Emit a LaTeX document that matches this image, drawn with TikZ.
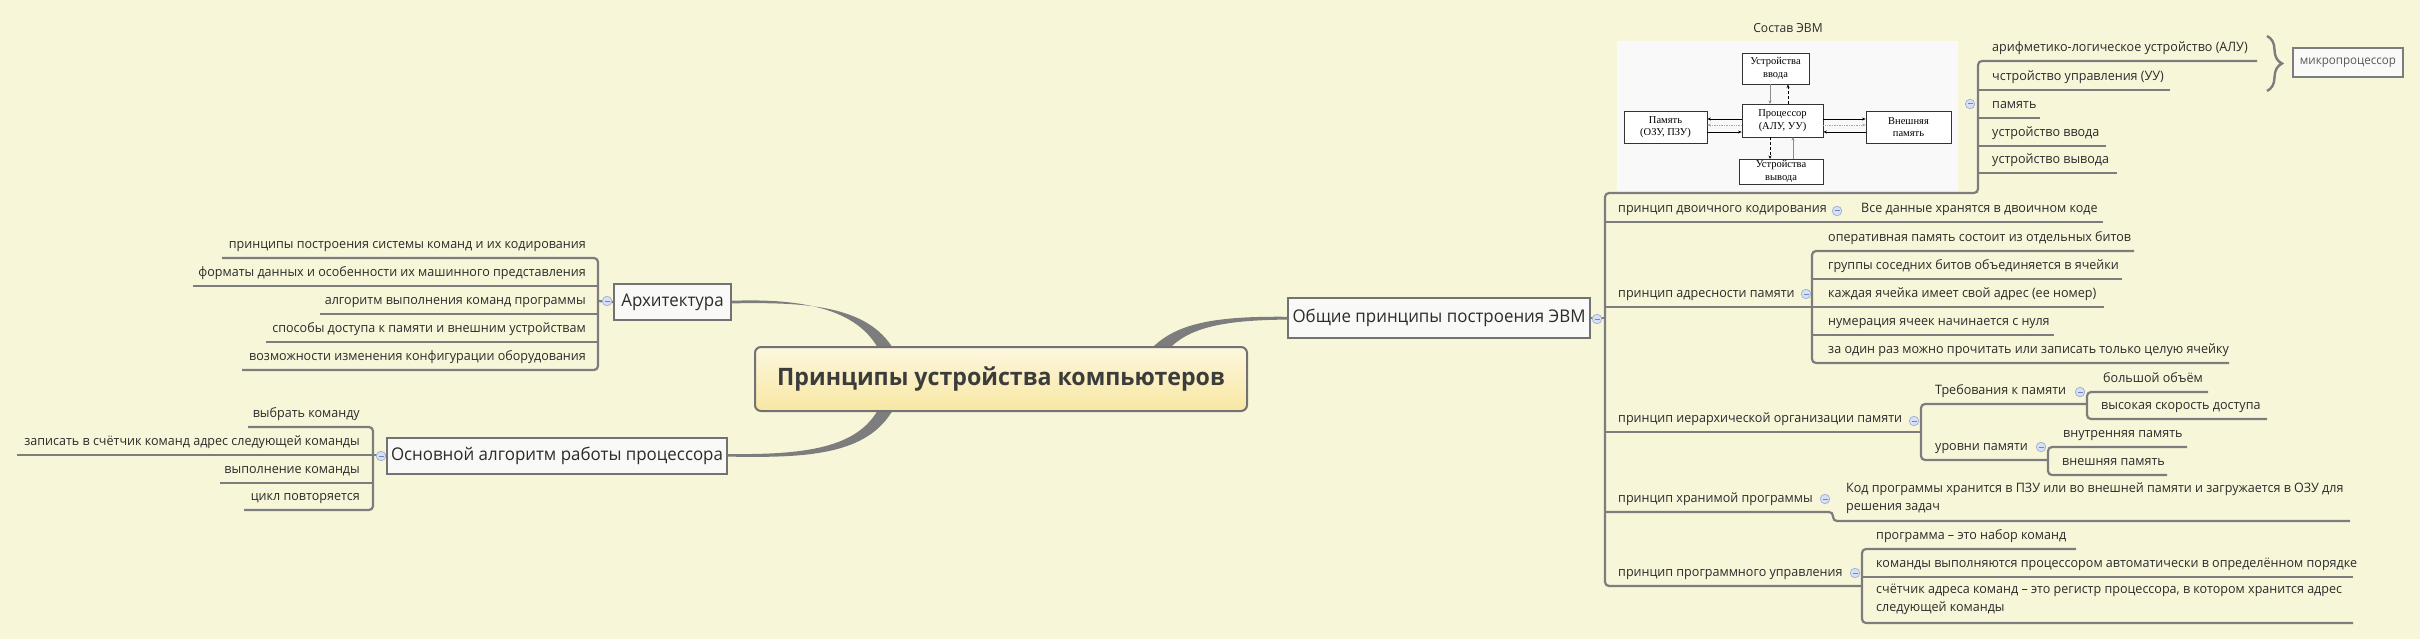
\documentclass[tikz,border=0pt]{standalone}
\usepackage{fontspec}
\setmainfont[FakeStretch=0.965]{Open Sans}
\newfontfamily\imgfont{Liberation Serif}
\usetikzlibrary{arrows.meta,decorations.pathreplacing}
\definecolor{bgcol}{HTML}{F8F6D9}
\definecolor{lncol}{HTML}{7D7D7D}
\definecolor{txcol}{HTML}{2B2B2B}
\definecolor{bxcol}{HTML}{727272}
\definecolor{bxfill}{HTML}{F9F9F7}
\definecolor{ctop}{HTML}{FCF7DF}
\definecolor{cbot}{HTML}{F8E7A2}
\definecolor{collfill}{HTML}{D7E1F5}
\definecolor{colldraw}{HTML}{A3B4D8}
\definecolor{collminus}{HTML}{6F86BA}
\definecolor{imgbg}{HTML}{F9F9F9}
\definecolor{ctxcol}{HTML}{3C3C3C}
\tikzset{
 lt/.style={anchor=west, inner sep=0pt, text height=10pt, text depth=3pt, font=\fontsize{13}{16}\selectfont, text=txcol},
 rt/.style={lt, anchor=east},
 ml/.style={anchor=north west, inner sep=0pt, align=left, font=\fontsize{13}{18.5}\selectfont, text=txcol},
 br/.style={draw=lncol, line width=2.2pt, rounded corners=4pt},
 bnode/.style={draw=bxcol, line width=2pt, fill=bxfill, inner sep=0pt, font=\fontsize{17.5}{20}\selectfont, text=txcol},
 coll/.style={circle, draw=colldraw, fill=collfill, line width=0.8pt, minimum size=9.5pt, inner sep=0pt,
   path picture={\draw[draw=collminus, line width=1pt] ([xshift=-2.5pt]path picture bounding box.center) -- ([xshift=2.5pt]path picture bounding box.center);}},
 ib/.style={draw=black!80, line width=0.8pt, fill=white, inner sep=0pt, align=center, font=\imgfont\fontsize{10.5}{12.5}\selectfont},
 ia/.style={-{Stealth[length=3.5pt,width=3pt]}, line width=0.7pt},
}
\begin{document}
\begin{tikzpicture}[x=1pt,y=-1pt]
\fill[bgcol] (0,0) rectangle (2420,639);
\useasboundingbox (0,0) rectangle (2420,639);

% ---------- thick connectors ----------
\fill[lncol] (731,300.8) .. controls (805,298) and (858,310) .. (879,350) -- (894,350) .. controls (868,305) and (805,302) .. (731,303.4) -- cycle;
\fill[lncol] (727,454) .. controls (805,455) and (858,448) .. (879,408) -- (894,408) .. controls (868,456) and (805,458) .. (727,456.6) -- cycle;
\fill[lncol] (1288,316.8) .. controls (1215,316) and (1175,323) .. (1150,350) -- (1168,350) .. controls (1188,328) and (1222,320) .. (1288,319.6) -- cycle;

% ---------- main nodes ----------
\node[draw=bxcol, line width=2pt, rounded corners=6pt, top color=ctop, bottom color=cbot,
      minimum width=492pt, minimum height=64pt, inner sep=0pt, text=ctxcol,
      font=\bfseries\fontsize{24}{28}\selectfont] (c) at (1001,379) {Принципы устройства компьютеров};
\node[bnode, minimum width=117pt, minimum height=36pt] (arch) at (672.5,302) {Архитектура};
\node[bnode, minimum width=340pt, minimum height=36pt] (alg) at (557,456) {Основной алгоритм работы процессора};
\node[bnode, minimum width=302pt, minimum height=40pt] (gen) at (1439,318) {Общие принципы построения ЭВМ};

% ---------- left: Архитектура ----------
\draw[br] (222,258) -- (598,258) -- (598,370) -- (242,370);
\draw[br] (193,286) -- (598,286);
\draw[br] (320,314) -- (598,314);
\draw[br] (266,342) -- (598,342);
\draw[br] (598,301) -- (arch.west);
\node[rt] (a1) at (586,245) {принципы построения системы команд и их кодирования};
\node[rt] (a2) at (586,273) {форматы данных и особенности их машинного представления};
\node[rt] (a3) at (586,301) {алгоритм выполнения команд программы};
\node[rt] (a4) at (586,329) {способы доступа к памяти и внешним устройствам};
\node[rt] (a5) at (586,357) {возможности изменения конфигурации оборудования};
\node[coll] (k1) at (607,301) {};

% ---------- left: Основной алгоритм ----------
\draw[br] (248,427) -- (373,427) -- (373,510) -- (244,510);
\draw[br] (17,455) -- (373,455);
\draw[br] (220,483) -- (373,483);
\draw[br] (373,455) -- (alg.west |- 0,455);
\node[rt] (b1) at (360,414) {выбрать команду};
\node[rt] (b2) at (360,442) {записать в счётчик команд адрес следующей команды};
\node[rt] (b3) at (360,470) {выполнение команды};
\node[rt] (b4) at (360,497) {цикл повторяется};
\node[coll] (k2) at (381,456) {};

% ---------- right: main bracket ----------
\draw[br] (2257,61) -- (1978,61) -- (1978,193) -- (1605,193) -- (1605,586) -- (1862,586);
\draw[br] (gen.east) -- (1605,318);
\node[coll] (k3) at (1597,319) {};

% Состав ЭВМ image
\node[font=\fontsize{12.5}{14}\selectfont, text=txcol, inner sep=0pt] (sostav) at (1788,28) {Состав ЭВМ};
\fill[imgbg] (1617,41) rectangle (1958,191);
\node[ib, minimum width=67pt, minimum height=31pt] (iin) at (1775.5,68.5) {Устройства\\ввода};
\node[ib, minimum width=81pt, minimum height=33pt] (icpu) at (1782.5,120.5) {Процессор\\(АЛУ, УУ)};
\node[ib, minimum width=83pt, minimum height=32pt] (imem) at (1665.5,127) {Память\\(ОЗУ, ПЗУ)};
\node[ib, minimum width=85pt, minimum height=32pt] (iext) at (1908.5,127) {Внешняя\\память};
\node[ib, minimum width=84pt, minimum height=25pt] (iout) at (1781,171.5) {Устройства\\вывода};
\draw[ia, black!45] (1770,84.5) -- (1770,104);
\draw[ia, densely dashed] (1788,104) -- (1788,84.5);
\draw[ia] (icpu.west |- 0,119) -- (imem.east |- 0,119);
\draw[ia, densely dotted, black!35] (icpu.west |- 0,125) -- (imem.east |- 0,125);
\draw[ia] (imem.east |- 0,132) -- (icpu.west |- 0,132);
\draw[ia] (icpu.east |- 0,119) -- (iext.west |- 0,119);
\draw[ia, densely dotted, black!35] (icpu.east |- 0,125) -- (iext.west |- 0,125);
\draw[ia] (iext.west |- 0,132) -- (icpu.east |- 0,132);
\draw[ia, densely dashed] (1770,137) -- (1770,159);
\draw[ia, black!45] (1793,159) -- (1793,137);

% Состав children
\draw[br] (1978,90) -- (2170,90);
\draw[br] (1978,118) -- (2040,118);
\draw[br] (1978,146) -- (2106,146);
\draw[br] (1978,173) -- (2117,173);
\node[lt] (s1) at (1992,48) {арифметико-логическое устройство (АЛУ)};
\node[lt] (s2) at (1992,77) {чстройство управления (УУ)};
\node[lt] (s3) at (1992,105) {память};
\node[lt] (s4) at (1992,133) {устройство ввода};
\node[lt] (s5) at (1992,160) {устройство вывода};
\node[coll] (k4) at (1970,104) {};
\draw[lncol, line width=2.4pt, decorate, decoration={brace, amplitude=15pt}] (2267,36) -- (2267,91);
\node[draw=lncol, line width=2pt, fill=bxfill, minimum width=110pt, minimum height=29pt, inner sep=0pt,
      font=\fontsize{12}{14}\selectfont, text=black!65] (mp) at (2348,62.5) {микропроцессор};

% принцип двоичного кодирования
\draw[br] (1605,222) -- (2103,222);
\node[lt] (p1) at (1618,209) {принцип двоичного кодирования};
\node[lt] (p1a) at (1861,209) {Все данные хранятся в двоичном коде};
\node[coll] (k5) at (1837,211) {};

% принцип адресности памяти
\draw[br] (1605,307) -- (2104,307);
\draw[br] (2134,251) -- (1812,251) -- (1812,363) -- (2229,363);
\draw[br] (1812,279) -- (2122,279);
\draw[br] (1812,335) -- (2054,335);
\node[lt] (p2) at (1618,294) {принцип адресности памяти};
\node[lt] (p2a) at (1828,238) {оперативная память состоит из отдельных битов};
\node[lt] (p2b) at (1828,266) {группы соседних битов объединяется в ячейки};
\node[lt] (p2c) at (1828,294) {каждая ячейка имеет свой адрес (ее номер)};
\node[lt] (p2d) at (1828,322) {нумерация ячеек начинается с нуля};
\node[lt] (p2e) at (1828,350) {за один раз можно прочитать или записать только целую ячейку};
\node[coll] (k6) at (1806,294) {};

% принцип иерархической организации памяти
\draw[br] (1605,432) -- (1921,432);
\draw[br] (2087,404) -- (1921,404) -- (1921,460) -- (2048,460);
\draw[br] (2208,392) -- (2087,392) -- (2087,419) -- (2267,419);
\draw[br] (2187,447) -- (2048,447) -- (2048,475) -- (2167,475);
\node[lt] (p3) at (1618,419) {принцип иерархической организации памяти};
\node[lt] (p3a) at (1935,391) {Требования к памяти};
\node[lt] (p3a1) at (2103,379) {большой объём};
\node[lt] (p3a2) at (2101,406) {высокая скорость доступа};
\node[lt] (p3b) at (1935,447) {уровни памяти};
\node[lt] (p3b1) at (2063,434) {внутренняя память};
\node[lt] (p3b2) at (2062,462) {внешняя память};
\node[coll] (k7) at (1914,421) {};
\node[coll] (k8) at (2080,392) {};
\node[coll] (k9) at (2041,447) {};

% принцип хранимой программы
\draw[br] (1605,512) -- (1833,512) -- (1833,521) -- (2350,521);
\node[lt] (p4) at (1618,499) {принцип хранимой программы};
\node[ml] (p4a) at (1846,482) {Код программы хранится в ПЗУ или во внешней памяти и загружается в ОЗУ для\\решения задач};
\node[coll] (k10) at (1825,499) {};

% принцип программного управления
\draw[br] (2076,549) -- (1862,549) -- (1862,623) -- (2353,623);
\draw[br] (1862,577) -- (2353,577);
\node[lt] (p5) at (1618,573) {принцип программного управления};
\node[lt] (p5a) at (1876,536) {программа – это набор команд};
\node[lt] (p5b) at (1876,564) {команды выполняются процессором автоматически в определённом порядке};
\node[ml] (p5c) at (1876,583.5) {счётчик адреса команд – это регистр процессора, в котором хранится адрес\\следующей команды};
\node[coll] (k11) at (1855,573) {};
\end{tikzpicture}
\end{document}
